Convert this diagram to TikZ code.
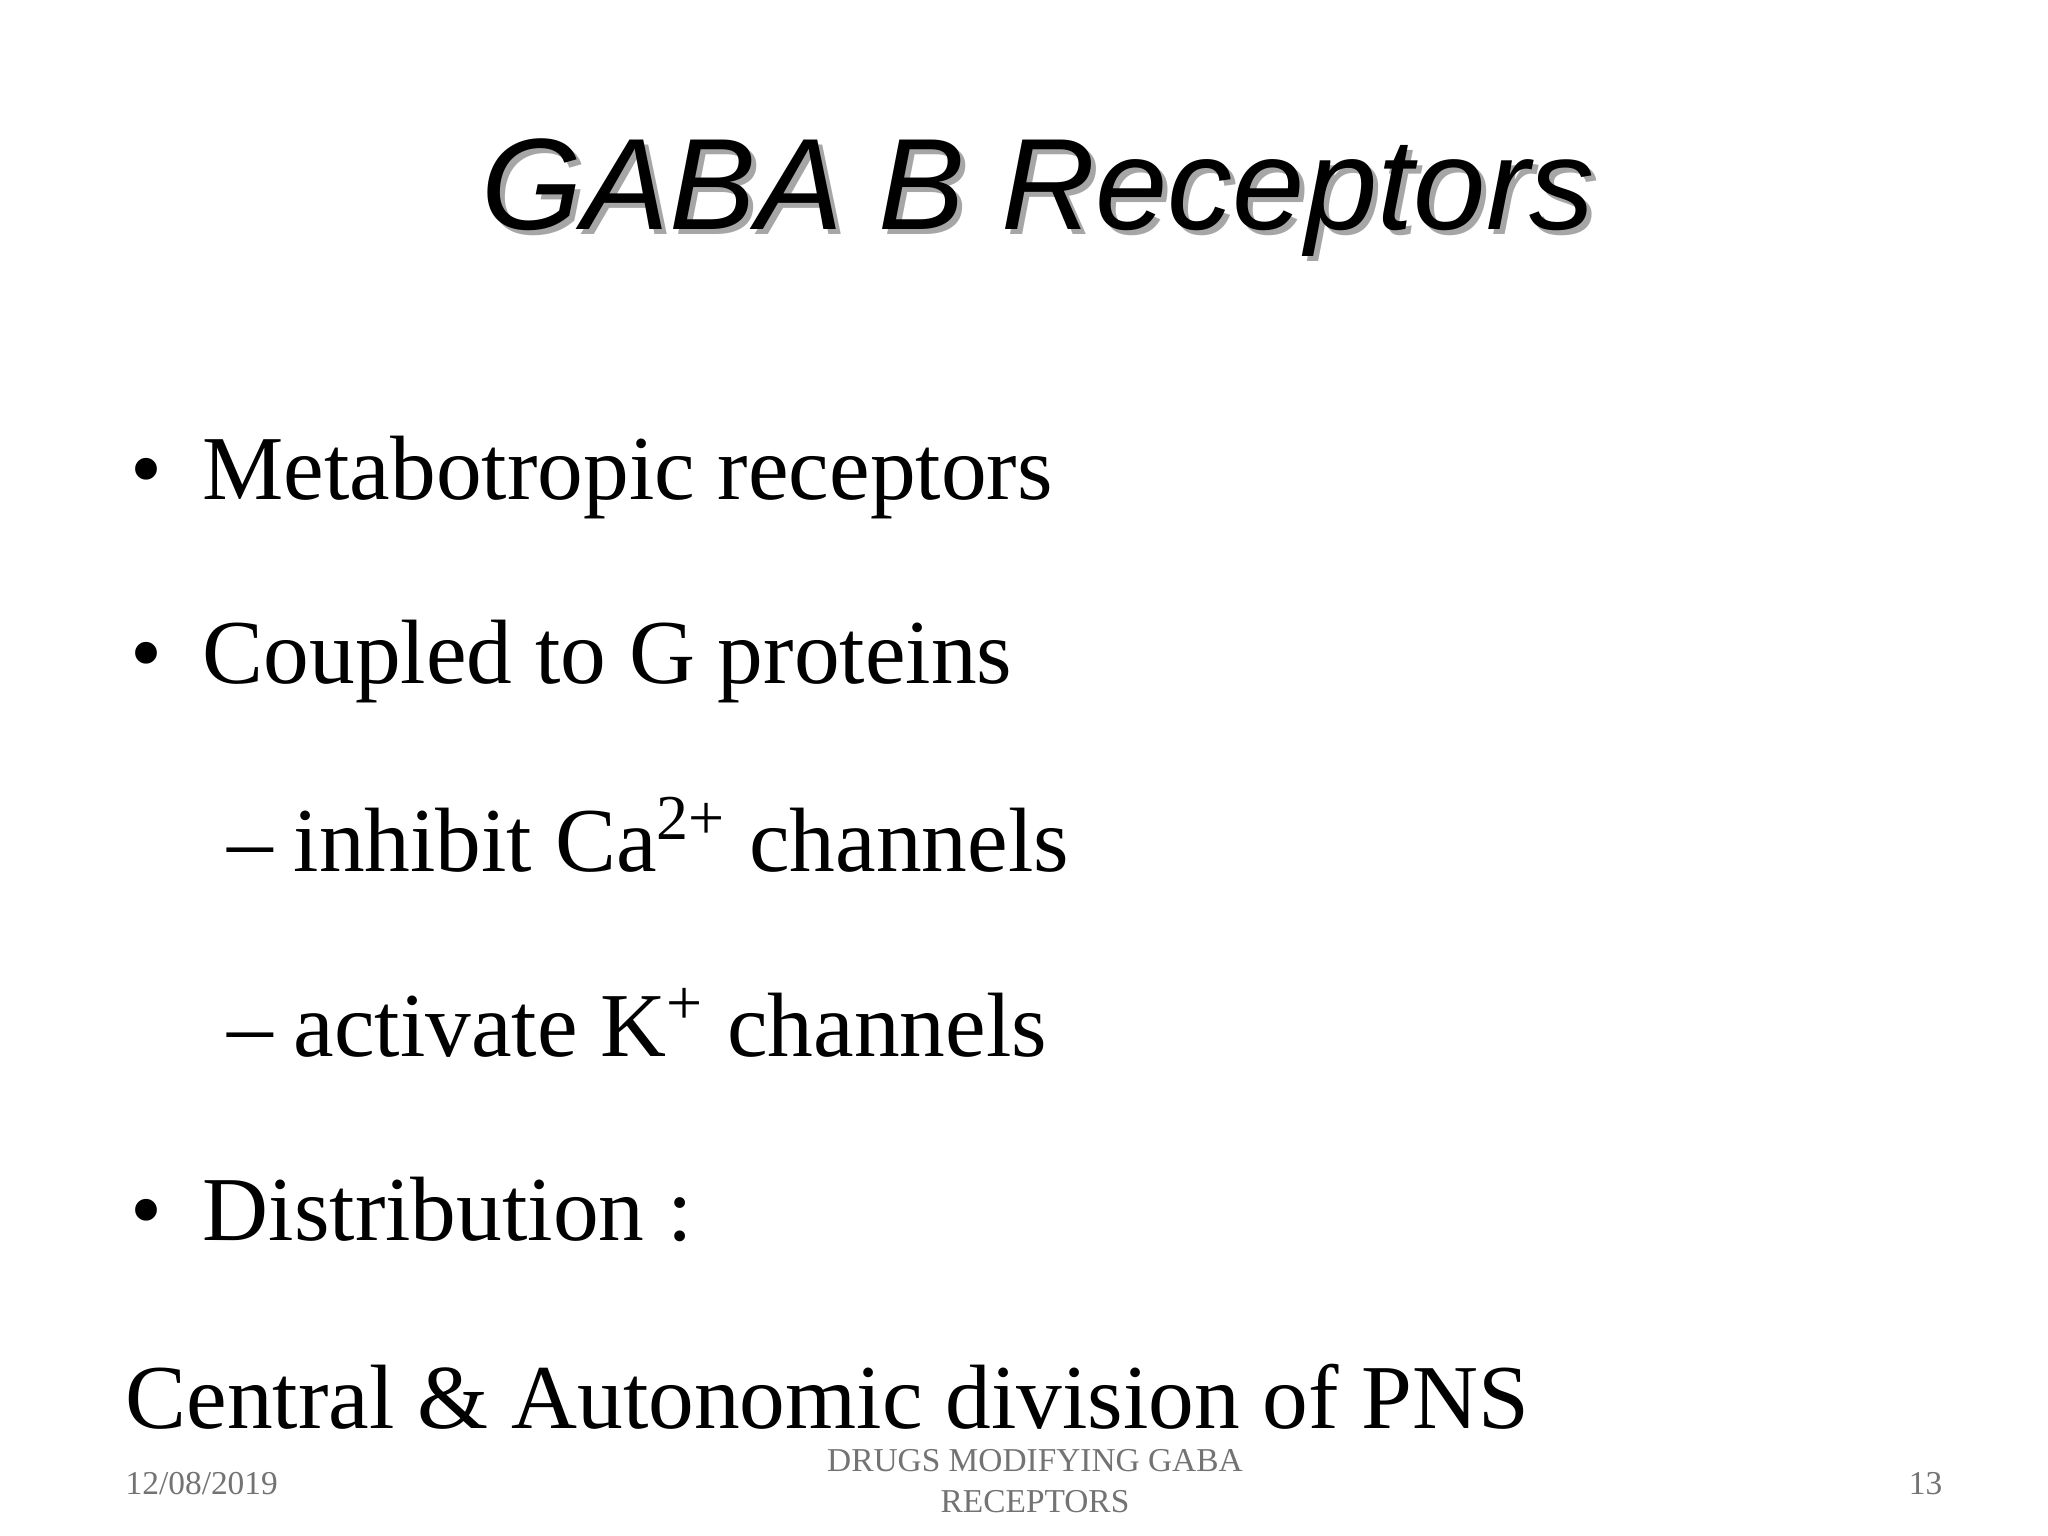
\documentclass[tikz,border=0pt]{standalone}
\usepackage{fontspec}
\setmainfont{Liberation Serif}
\newfontfamily\titlefont{Liberation Sans}
\begin{document}
\begin{tikzpicture}[x=1cm,y=1cm,
  body/.style={anchor=base west,inner sep=0pt,font=\fontsize{26}{30}\selectfont},
  foot/.style={inner sep=0pt,text=black!55,font=\fontsize{9.5}{11}\selectfont}]
\fill[white] (0,0) rectangle (20.48,-15.36);
\node[inner sep=0pt,text=black!35,font=\titlefont\itshape\fontsize{37}{40}\selectfont] at (10.43,-2.03) {GABA B Receptors};
\node[inner sep=0pt,font=\titlefont\itshape\fontsize{37}{40}\selectfont] (title) at (10.38,-1.98) {GABA B Receptors};
\node[body] (b1) at (1.30,-4.99) {•};
\node[body] (t1) at (2.02,-4.99) {Metabotropic receptors};
\node[body] (b2) at (1.30,-6.84) {•};
\node[body] (t2) at (2.02,-6.84) {Coupled to G proteins};
\node[body] (d3) at (2.27,-8.71) {–};
\node[body] (t3) at (2.93,-8.71) {inhibit Ca\textsuperscript{2+} channels};
\node[body] (d4) at (2.27,-10.56) {–};
\node[body] (t4) at (2.93,-10.56) {activate K\textsuperscript{+} channels};
\node[body] (b5) at (1.30,-12.40) {•};
\node[body] (t5) at (2.02,-12.40) {Distribution :};
\node[body] (t6) at (1.25,-14.28) {Central \& Autonomic division of PNS};
\node[foot,anchor=base west] (date) at (1.25,-14.94) {12/08/2019};
\node[foot,anchor=base,align=center] (ft) at (10.35,-14.71) {DRUGS MODIFYING GABA};
\node[foot,anchor=base,align=center] (ft2) at (10.35,-15.12) {RECEPTORS};
\node[foot,anchor=base east] (num) at (19.43,-14.94) {13};
\end{tikzpicture}
\end{document}
